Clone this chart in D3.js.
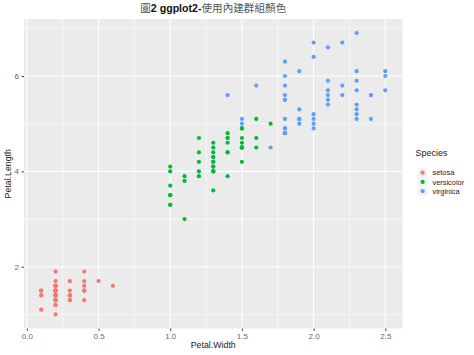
<!DOCTYPE html>
<html><head><meta charset="utf-8">
<script src="https://cdn.jsdelivr.net/npm/d3@7"></script>
<style>body{margin:0;background:#fff}text{font-family:"Liberation Sans",Arial,"Noto Sans CJK TC",sans-serif}</style>
</head><body><svg id="c" width="474" height="355"></svg>
<script>
const species = ["setosa","versicolor","virginica"];
const colors = ["#F8766D","#00BA38","#619CFF"];
const xTicks = [0.0,0.5,1.0,1.5,2.0,2.5];
const xTickLabels = ["0.0","0.5","1.0","1.5","2.0","2.5"];
const yTicks = [2,4,6];
const yTickLabels = ["2","4","6"];
const setosaWidth = [0.2,0.2,0.2,0.2,0.2,0.4,0.3,0.2,0.2,0.1,0.2,0.2,0.1,0.1,0.2,0.4,0.4,0.3,0.3,0.3,0.2,0.4,0.2,0.5,0.2,0.2,0.4,0.2,0.2,0.2,0.2,0.4,0.1,0.2,0.2,0.2,0.2,0.1,0.2,0.2,0.3,0.3,0.2,0.6,0.4,0.3,0.2,0.2,0.2,0.2];
const setosaLength = [1.4,1.4,1.3,1.5,1.4,1.7,1.4,1.5,1.4,1.5,1.5,1.6,1.4,1.1,1.2,1.5,1.3,1.4,1.7,1.5,1.7,1.5,1.0,1.7,1.9,1.6,1.6,1.5,1.4,1.6,1.6,1.5,1.5,1.4,1.5,1.2,1.3,1.4,1.3,1.5,1.3,1.3,1.3,1.6,1.9,1.4,1.6,1.4,1.5,1.4];
const versicolorWidth = [1.4,1.5,1.5,1.3,1.5,1.3,1.6,1.0,1.3,1.4,1.0,1.5,1.0,1.4,1.3,1.4,1.5,1.0,1.5,1.1,1.8,1.3,1.5,1.2,1.3,1.4,1.4,1.7,1.5,1.0,1.1,1.0,1.2,1.6,1.5,1.6,1.5,1.3,1.3,1.3,1.2,1.4,1.2,1.0,1.3,1.2,1.3,1.3,1.1,1.3];
const versicolorLength = [4.7,4.5,4.9,4.0,4.6,4.5,4.7,3.3,4.6,3.9,3.5,4.2,4.0,4.7,3.6,4.4,4.5,4.1,4.5,3.9,4.8,4.0,4.9,4.7,4.3,4.4,4.8,5.0,4.5,3.5,3.8,3.7,3.9,5.1,4.5,4.5,4.7,4.4,4.1,4.0,4.4,4.6,4.0,3.3,4.2,4.2,4.2,4.3,3.0,4.1];
const virginicaWidth = [2.5,1.9,2.1,1.8,2.2,2.1,1.7,1.8,1.8,2.5,2.0,1.9,2.1,2.0,2.4,2.3,1.8,2.2,2.3,1.5,2.3,2.0,2.0,1.8,2.1,1.8,1.8,1.8,2.1,1.6,1.9,2.0,2.2,1.5,1.4,2.3,2.4,1.8,1.8,2.1,2.4,2.3,1.9,2.3,2.5,2.3,1.9,2.0,2.3,1.8];
const virginicaLength = [6.0,5.1,5.9,5.6,5.8,6.6,4.5,6.3,5.8,6.1,5.1,5.3,5.5,5.0,5.1,5.3,5.5,6.7,6.9,5.0,5.7,4.9,6.7,4.9,5.7,6.0,4.8,4.9,5.6,5.8,6.1,6.4,5.6,5.1,5.6,6.1,5.6,5.5,4.8,5.4,5.6,5.1,5.1,5.9,5.7,5.2,5.0,5.2,5.4,5.1];

const widths = [setosaWidth, versicolorWidth, virginicaWidth];
const lengths = [setosaLength, versicolorLength, virginicaLength];
const data = [];
species.forEach((s,i)=>widths[i].forEach((w,j)=>data.push({s:i,w:w,l:lengths[i][j]})));

const svg = d3.select("#c");
const L=24, R=402.5, T=19, B=328.5;
const allW = data.map(d=>d.w), allL = data.map(d=>d.l);
const [wmin,wmax]=d3.extent(allW), [lmin,lmax]=d3.extent(allL);
const wp=(wmax-wmin)*0.05, lp=(lmax-lmin)*0.05;
const x = d3.scaleLinear().domain([wmin-wp,wmax+wp]).range([L,R]);
const y = d3.scaleLinear().domain([lmin-lp,lmax+lp]).range([B,T]);

svg.append("rect").attr("x",L).attr("y",T).attr("width",R-L).attr("height",B-T).attr("fill","#EBEBEB");
const g = svg.append("g");
const xMinor = [0.25,0.75,1.25,1.75,2.25];
const yMinor = [1,3,5,7];
xMinor.forEach(v=>g.append("line").attr("x1",x(v)).attr("x2",x(v)).attr("y1",T).attr("y2",B).attr("stroke","#fff").attr("stroke-width",0.55));
yMinor.forEach(v=>g.append("line").attr("y1",y(v)).attr("y2",y(v)).attr("x1",L).attr("x2",R).attr("stroke","#fff").attr("stroke-width",0.55));
xTicks.forEach(v=>g.append("line").attr("x1",x(v)).attr("x2",x(v)).attr("y1",T).attr("y2",B).attr("stroke","#fff").attr("stroke-width",1.1));
yTicks.forEach(v=>g.append("line").attr("y1",y(v)).attr("y2",y(v)).attr("x1",L).attr("x2",R).attr("stroke","#fff").attr("stroke-width",1.1));

svg.append("g").selectAll("circle").data(data).join("circle")
  .attr("cx",d=>x(d.w)).attr("cy",d=>y(d.l)).attr("r",2.1).attr("fill",d=>colors[d.s]);

const xAxis = d3.axisBottom(x).tickValues(xTicks).tickFormat((d,i)=>xTickLabels[i]).tickSize(2.5).tickPadding(2.5);
const yAxis = d3.axisLeft(y).tickValues(yTicks).tickFormat((d,i)=>yTickLabels[i]).tickSize(2.5).tickPadding(2.5);
const ax = svg.append("g").attr("transform",`translate(0,${B})`).call(xAxis);
const ay = svg.append("g").attr("transform",`translate(${L},0)`).call(yAxis);
[ax,ay].forEach(a=>{a.select(".domain").remove();a.selectAll("line").attr("stroke","#333").attr("stroke-width",0.9);
  a.selectAll("text").attr("fill","#666").style("font-size","8px").style("font-family","'Liberation Sans',Arial,sans-serif");});

svg.append("text").attr("x",(L+R)/2).attr("y",348).attr("text-anchor","middle").attr("font-size","8.8px").attr("fill","#222").text("Petal.Width");
svg.append("text").attr("transform",`translate(11,${(T+B)/2}) rotate(-90)`).attr("text-anchor","middle").attr("font-size","8.8px").attr("fill","#222").text("Petal.Length");
const title = svg.append("text").attr("x",(L+R)/2).attr("y",12).attr("text-anchor","middle").attr("font-size","10.6px");
title.append("tspan").attr("fill","#555").text("圖");
title.append("tspan").attr("fill","#111").attr("font-weight","bold").text("2 ggplot2-");
title.append("tspan").attr("fill","#555").text("使用內建群組顏色");

const lg = svg.append("g");
lg.append("text").attr("x",415.5).attr("y",155.5).attr("font-size","9px").attr("fill","#222").text("Species");
species.forEach((s,i)=>{
  const cy = 172.7 + i*9.2;
  lg.append("rect").attr("x",417.5).attr("y",cy-4.5).attr("width",10).attr("height",9).attr("fill","#F2F2F2");
  lg.append("circle").attr("cx",422.6).attr("cy",cy).attr("r",2.1).attr("fill",colors[i]);
  lg.append("text").attr("x",432.5).attr("y",cy+2.6).attr("font-size","7.4px").attr("fill","#222").text(s);
});
</script></body></html>
